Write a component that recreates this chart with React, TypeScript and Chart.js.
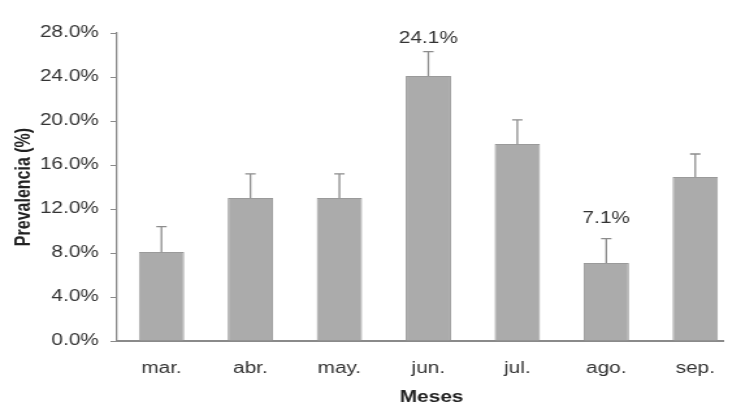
import React, { useEffect, useRef } from "react";
import { Chart, registerables } from "chart.js";

Chart.register(...registerables);

const categories = ["mar.", "abr.", "may.", "jun.", "jul.", "ago.", "sep."];
const prevalence = [8.1, 13.0, 13.0, 24.1, 17.9, 7.1, 14.9];
const errorUpper = [10.4, 15.2, 15.2, 26.3, 20.1, 9.3, 17.0];
const barLabels = ["", "", "", "24.1%", "", "7.1%", ""];
const yTicks = [0, 4, 8, 12, 16, 20, 24, 28];

const FONT = "'Liberation Sans', Arial, sans-serif";
const STRETCH = 1.3;
const CW = Math.round(731 / STRETCH);
const CH = 415;

export default function App() {
  const ref = useRef<HTMLCanvasElement | null>(null);

  useEffect(() => {
    document.body.style.margin = "0";
    const canvas = ref.current;
    if (!canvas) return;

    const errorPlugin = {
      id: "errorBars",
      afterDatasetsDraw(chart: any) {
        const ctx = chart.ctx;
        const xs = chart.scales.x;
        const ys = chart.scales.y;
        ctx.save();
        ctx.strokeStyle = "#8c8c8c";
        ctx.lineWidth = 1.3;
        prevalence.forEach((v, i) => {
          const x = xs.getPixelForValue(i);
          const y0 = ys.getPixelForValue(v);
          const y1 = ys.getPixelForValue(errorUpper[i]);
          ctx.beginPath();
          ctx.moveTo(x, y0);
          ctx.lineTo(x, y1);
          ctx.moveTo(x - 4, y1);
          ctx.lineTo(x + 4, y1);
          ctx.stroke();
        });
        ctx.fillStyle = "#333";
        ctx.font = `16px ${FONT}`;
        ctx.textAlign = "center";
        ctx.textBaseline = "middle";
        barLabels.forEach((t, i) => {
          if (!t) return;
          const x = xs.getPixelForValue(i);
          const y1 = ys.getPixelForValue(errorUpper[i]);
          const y = Math.max(y1 - 20, chart.chartArea.top + 6);
          ctx.fillText(t, x, y);
        });
        ctx.font = `bold 16px ${FONT}`;
        ctx.fillStyle = "#222";
        ctx.fillText("Meses", (xs.left + xs.right) / 2 + 9, 398);
        ctx.restore();
      },
    };

    const chart = new Chart(canvas, {
      type: "bar",
      data: {
        labels: categories,
        datasets: [
          {
            data: prevalence.map((v, i) => ({ x: i, y: v })),
            backgroundColor: "#ababab",
            borderColor: "#9a9a9a",
            borderWidth: 1,
            barPercentage: 1,
            categoryPercentage: 0.51,
          },
        ],
      },
      options: {
        animation: false,
        responsive: false,
        devicePixelRatio: 1,
        layout: { padding: { top: 33, right: 6, left: 0, bottom: 0 } },
        plugins: { legend: { display: false }, tooltip: { enabled: false } },
        scales: {
          x: {
            type: "linear",
            offset: false,
            min: -0.5,
            max: 6.31,
            afterFit: (s: any) => {
              s.height = 74;
              s.paddingLeft = 0;
              s.paddingRight = 0;
            },
            afterBuildTicks: (s: any) => {
              s.ticks = categories.map((_, i) => ({ value: i }));
            },
            grid: { display: false, drawTicks: false },
            border: { color: "#8a8a8a", width: 2 },
            ticks: {
              padding: 18,
              color: "#333",
              font: { family: FONT, size: 16 },
              callback: (v: any) => categories[v] ?? "",
            },
          },
          y: {
            min: 0,
            max: 28,
            afterFit: (s: any) => {
              s.width = 90;
              s.paddingTop = 0;
              s.paddingBottom = 0;
            },
            afterBuildTicks: (s: any) => {
              s.ticks = yTicks.map((v) => ({ value: v }));
            },
            grid: {
              display: true,
              drawOnChartArea: false,
              drawTicks: true,
              tickLength: 5,
              color: "#8a8a8a",
            },
            border: { color: "#8a8a8a", width: 1.3, dash: [4, 1] },
            ticks: {
              padding: 9,
              color: "#333",
              font: { family: FONT, size: 16 },
              callback: (v: any) => Number(v).toFixed(1) + "%",
            },
            title: {
              display: true,
              text: "Prevalencia (%)",
              color: "#222",
              font: { family: FONT, size: 16, weight: "bold" },
              padding: { top: 9, bottom: 0 },
            },
          },
        },
      },
      plugins: [errorPlugin],
    });

    return () => chart.destroy();
  }, []);

  return (
    <div style={{ width: 731, height: 415, overflow: "hidden" }}>
      <div style={{ transform: `scaleX(${STRETCH})`, transformOrigin: "0 0", width: CW, height: CH }}>
        <canvas
          ref={ref}
          width={CW}
          height={CH}
          style={{ display: "block", width: CW, height: CH }}
        />
      </div>
    </div>
  );
}
